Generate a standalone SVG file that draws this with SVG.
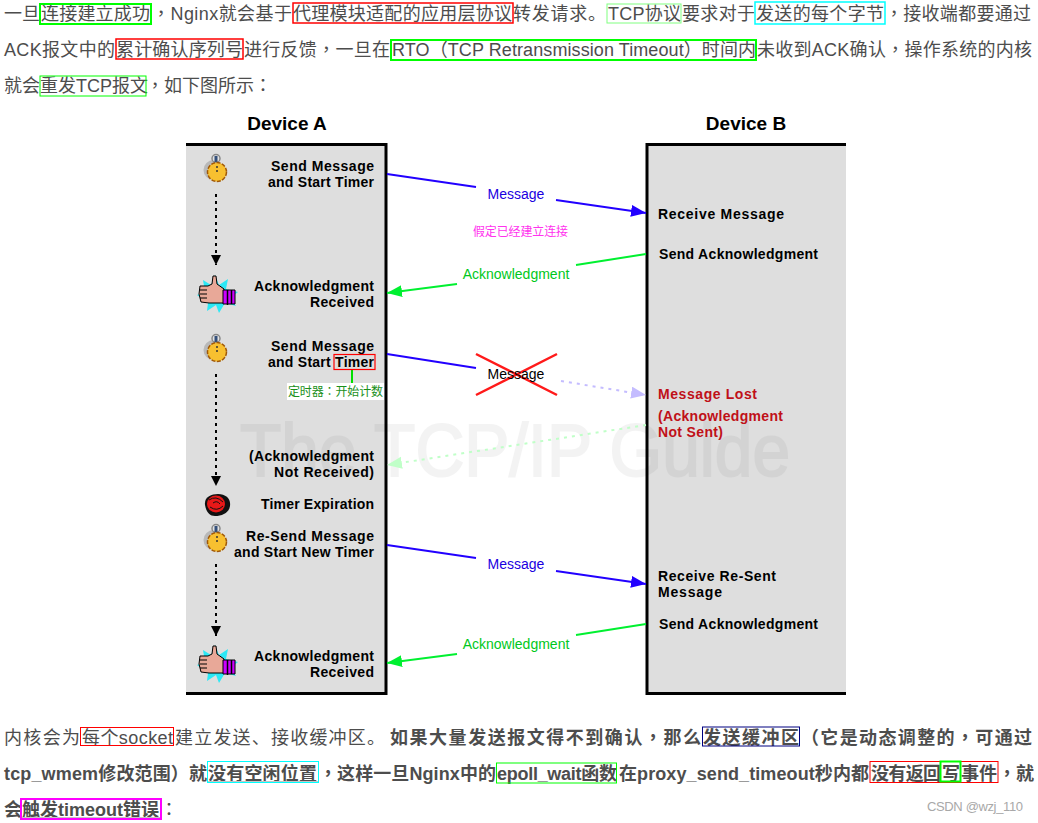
<svg xmlns="http://www.w3.org/2000/svg" xmlns:xlink="http://www.w3.org/1999/xlink" width="1038" height="823" viewBox="0 0 1038 823">
<style>
text{font-family:"Liberation Sans","Noto Sans CJK SC",sans-serif}
.tc{font-family:"Noto Sans CJK TC",sans-serif}
.p{font-size:18px;fill:#4d4d4d}
.b{font-size:18px;fill:#4d4d4d;font-weight:bold}
.box{fill:none}
.l{font-size:14px;font-weight:bold;fill:#000}
.e{text-anchor:end}
.r{fill:#c01018}
.h{font-size:19px;font-weight:bold;fill:#000;text-anchor:middle}
.m{font-size:14px;text-anchor:middle}
.panel{fill:#dedede}
.edge{stroke:#000;stroke-width:3;fill:none}
.blue{stroke:#2200ff;stroke-width:2;fill:none}
.green{stroke:#00f030;stroke-width:2;fill:none}
.vd{stroke:#000;stroke-width:2;stroke-dasharray:3 4;fill:none}
</style>
<defs>
<marker id="ab" markerUnits="userSpaceOnUse" markerWidth="16" markerHeight="14" refX="15" refY="6" orient="auto"><path d="M0 0L15 6L0 12Z" fill="#2200ff"/></marker>
<marker id="ag" markerUnits="userSpaceOnUse" markerWidth="16" markerHeight="14" refX="15" refY="6" orient="auto"><path d="M0 0L15 6L0 12Z" fill="#00f030"/></marker>
<marker id="al" markerUnits="userSpaceOnUse" markerWidth="16" markerHeight="14" refX="15" refY="6" orient="auto"><path d="M0 0L15 6L0 12Z" fill="#c4bcff"/></marker>
<marker id="af" markerUnits="userSpaceOnUse" markerWidth="16" markerHeight="14" refX="15" refY="6" orient="auto"><path d="M0 0L15 6L0 12Z" fill="#c0ffc8"/></marker>
<marker id="ak" markerUnits="userSpaceOnUse" markerWidth="11" markerHeight="12" refX="10" refY="5" orient="auto"><path d="M0 0L10 5L0 10Z" fill="#000"/></marker>
<symbol id="watch" width="30" height="34" viewBox="0 0 30 34" overflow="visible">
<circle cx="12.500" cy="17" r="10" fill="#b8b8b8"/>
<circle cx="15" cy="5.500" r="4" fill="#e2e2e2" stroke="#888" stroke-width="1.500"/>
<rect x="13.500" y="3" width="3" height="6" fill="#35507a"/>
<circle cx="16" cy="19" r="9.500" fill="#f8c030" stroke="#a05808" stroke-width="1.500" stroke-dasharray="4 1.500"/>
<path d="M16 13v6" stroke="#333" stroke-width="1.500" stroke-dasharray="2 2"/>
</symbol>
<symbol id="hand" width="41" height="38" viewBox="0 0 41 38" overflow="visible">
<path d="M0 20L8 17L6 5L14 10L18 0L22 10L31 4L29 14L41 17L33 23L39 31L28 28L22 38L19 30L10 36L11 28Z" fill="#2ce8f5"/>
<path d="M3 11H11L15 9L16 1H19L20 9L27 14V28H12L4 27L2 19Z" fill="#e8a898" stroke="#000" stroke-width="1"/>
<path d="M3 15H10M3 19H10M3 23H10" stroke="#000" stroke-width="1" fill="none"/>
<path d="M26 15H38V29H26Z" fill="#cc00ff" stroke="#000" stroke-width="1"/>
<path d="M30.500 15V30M34.500 15V29" stroke="#000" stroke-width="1.500"/>
</symbol>
</defs>
<rect width="1038" height="823" fill="#fff"/>

<g id="paragraph-top">
<text class="p" x="4" y="20" textLength="36">一旦</text>
<text class="p" x="41" y="20" textLength="109">连接建立成功</text>
<text class="p" x="152" y="20" textLength="140"><tspan class="tc">，</tspan>Nginx就会基于</text>
<text class="p" x="293" y="20" textLength="219">代理模块适配的应用层协议</text>
<text class="p" x="513" y="20" textLength="93">转发请求。</text>
<text class="p" x="608" y="20" textLength="73">TCP协议</text>
<text class="p" x="682" y="20" textLength="73">要求对于</text>
<text class="p" x="756" y="20" textLength="128">发送的每个字节</text>
<text class="p" x="885" y="20" textLength="146"><tspan class="tc">，</tspan>接收端都要通过</text>
<text class="p" x="4" y="56" textLength="111">ACK报文中的</text>
<text class="p" x="116" y="56" textLength="127">累计确认序列号</text>
<text class="p" x="244" y="56" textLength="146">进行反馈<tspan class="tc">，</tspan>一旦在</text>
<text class="p" x="392" y="56" textLength="364">RTO（TCP Retransmission Timeout）时间内</text>
<text class="p" x="757" y="56" textLength="275">未收到ACK确认<tspan class="tc">，</tspan>操作系统的内核</text>
<text class="p" x="4" y="92">就会</text>
<text class="p" x="40" y="92">重发TCP报文</text>
<text class="p" x="146" y="92"><tspan class="tc">，</tspan>如下图所示<tspan class="tc">：</tspan></text>
<rect class="box" x="40" y="4" width="111" height="20" stroke="#00ff00" stroke-width="2"/>
<rect class="box" x="293" y="3" width="220" height="20" stroke="#ff0000" stroke-width="1.500"/>
<rect class="box" x="607" y="4" width="74" height="19" stroke="#80ff80" stroke-width="1"/>
<rect class="box" x="755" y="2" width="130" height="22" stroke="#00ffff" stroke-width="1.500"/>
<rect class="box" x="116" y="39" width="127" height="20" stroke="#ff0000" stroke-width="1.500"/>
<rect class="box" x="391" y="40" width="365" height="20" stroke="#00ff00" stroke-width="2"/>
<rect class="box" x="40" y="76" width="106" height="20" stroke="#00ff00" stroke-width="1"/>
</g>

<g id="device-a">
<rect class="panel" x="186" y="144" width="200" height="550"/>
<path class="edge" d="M186 144.500H386V693.500H186"/>
<text class="h" x="287" y="130">Device A</text>
</g>
<g id="device-b">
<rect class="panel" x="646" y="144" width="200" height="550"/>
<path class="edge" d="M846 144.500H647V693.500H846"/>
<text class="h" x="746" y="130">Device B</text>
</g>
<text id="watermark" x="240" y="476" font-size="74" fill="#000" stroke="#000" stroke-width="2" opacity=".045" textLength="550" lengthAdjust="spacingAndGlyphs">The TCP/IP Guide</text>

<g id="connectors">
<path class="blue" d="M387 174L476 187"/>
<path class="blue" d="M556 200L646 213" marker-end="url(#ab)"/>
<path class="green" d="M646 254L576 265"/>
<path class="green" d="M457 284L387 293" marker-end="url(#ag)"/>
<path class="blue" d="M387 354L476 368"/>
<path d="M476 354L557 395M476 395L557 354" stroke="#ff1a1a" stroke-width="2.500" fill="none"/>
<path d="M561 381L646 395" stroke="#c4bcff" stroke-width="2" stroke-dasharray="3 5" fill="none" marker-end="url(#al)"/>
<path d="M646 425L387 465" stroke="#c0ffc8" stroke-width="2" stroke-dasharray="3 5" fill="none" marker-end="url(#af)"/>
<path class="blue" d="M387 545L476 558"/>
<path class="blue" d="M556 571L646 584" marker-end="url(#ab)"/>
<path class="green" d="M646 624L576 635"/>
<path class="green" d="M457 654L387 663" marker-end="url(#ag)"/>
<path class="vd" d="M216 194V265" marker-end="url(#ak)"/>
<path class="vd" d="M216 374V486" marker-end="url(#ak)"/>
<path class="vd" d="M216 564V636" marker-end="url(#ak)"/>
<path d="M352 370V385" stroke="#00e000" stroke-width="2"/>
</g>

<g id="a-send-1"><use xlink:href="#watch" x="201" y="153"/><text class="l e" x="374" y="171" textLength="103">Send Message</text><text class="l e" x="374" y="187" textLength="106">and Start Timer</text></g>
<g id="a-ack-1"><use xlink:href="#hand" x="197" y="275"/><text class="l e" x="374" y="291" textLength="120">Acknowledgment</text><text class="l e" x="374" y="307" textLength="64">Received</text></g>
<g id="a-send-2"><use xlink:href="#watch" x="201" y="333"/><text class="l e" x="374" y="351" textLength="103">Send Message</text><text class="l e" x="374" y="367" textLength="106">and Start Timer</text><rect class="box" x="334" y="354.500" width="41" height="15" stroke="#ff0000" stroke-width="1.200"/></g>
<g id="timer-note"><rect x="287" y="383" width="97" height="17" fill="#fff"/><text x="288" y="396" font-size="12" fill="#1a8f1a" textLength="95">定时器<tspan class="tc">：</tspan>开始计数</text></g>
<g id="a-noack"><text class="l e" x="374" y="461" textLength="125">(Acknowledgment</text><text class="l e" x="374" y="477" textLength="100">Not Received)</text></g>
<g id="a-expire"><path d="M205 505C204 497 211 494 218 494C226 494 231 499 230 506C229 513 222 516 215 516C209 516 206 511 205 505Z" fill="#111"/><ellipse cx="216" cy="504" rx="9" ry="8.500" fill="#e81818"/><path d="M209 500Q216 495 223 502M210 507Q217 512 223 506M213 503Q217 500 220 504" stroke="#111" fill="none"/><text class="l e" x="374" y="509" textLength="113">Timer Expiration</text></g>
<g id="a-resend"><use xlink:href="#watch" x="201" y="523"/><text class="l e" x="374" y="541" textLength="128">Re-Send Message</text><text class="l e" x="374" y="557" textLength="140">and Start New Timer</text></g>
<g id="a-ack-2"><use xlink:href="#hand" x="197" y="645"/><text class="l e" x="374" y="661" textLength="120">Acknowledgment</text><text class="l e" x="374" y="677" textLength="64">Received</text></g>

<g id="b-recv-1"><text class="l" x="658" y="219" textLength="126">Receive Message</text></g>
<g id="b-ack-1"><text class="l" x="659" y="259" textLength="159">Send Acknowledgment</text></g>
<g id="b-lost"><text class="l r" x="658" y="399" textLength="99">Message Lost</text><text class="l r" x="658" y="421" textLength="125">(Acknowledgment</text><text class="l r" x="658" y="437" textLength="65">Not Sent)</text></g>
<g id="b-recv-2"><text class="l" x="658" y="581" textLength="118">Receive Re-Sent</text><text class="l" x="658" y="597" textLength="64">Message</text></g>
<g id="b-ack-2"><text class="l" x="659" y="629" textLength="159">Send Acknowledgment</text></g>

<g id="connector-labels">
<text class="m" x="516" y="199" fill="#1a00e0">Message</text>
<text x="473" y="236" font-size="12" fill="#ff33ee" textLength="95">假定已经建立连接</text>
<text class="m" x="516" y="279" fill="#00c820">Acknowledgment</text>
<text class="m" x="516" y="379" fill="#000">Message</text>
<text class="m" x="516" y="569" fill="#1a00e0">Message</text>
<text class="m" x="516" y="649" fill="#00c820">Acknowledgment</text>
</g>

<g id="paragraph-bottom">
<text class="p" x="4" y="744" textLength="76">内核会为</text>
<text class="p" x="82" y="744" textLength="91">每个socket</text>
<text class="p" x="175" y="744" textLength="210">建立发送、接收缓冲区。</text>
<text class="b" x="390" y="744" textLength="311">如果大量发送报文得不到确认<tspan class="tc">，</tspan>那么</text>
<text class="b" x="703" y="744" textLength="96">发送缓冲区</text>
<text class="b" x="801" y="744" textLength="231">（它是动态调整的<tspan class="tc">，</tspan>可通过</text>
<text class="b" x="4" y="780" textLength="203">tcp_wmem修改范围）就</text>
<text class="b" x="208" y="780" textLength="109">没有空闲位置</text>
<text class="b" x="319" y="780" textLength="177"><tspan class="tc">，</tspan>这样一旦Nginx中的</text>
<text class="b" x="497" y="780" textLength="120">epoll_wait函数</text>
<text class="b" x="619" y="780" textLength="250">在proxy_send_timeout秒内都</text>
<text class="b" x="871" y="780" textLength="70">没有返回</text>
<text class="b" x="942" y="780">写</text>
<text class="b" x="961" y="780">事件</text>
<text class="b" x="998" y="780"><tspan class="tc">，</tspan>就</text>
<text class="b" x="4" y="816">会</text>
<text class="b" x="22" y="816">触发timeout错误</text>
<text class="p tc" x="160" y="816">：</text>
<path d="M208 781.500H318M22 817.500H160" stroke="#c4c4c4" stroke-width="1" fill="none"/>
<rect class="box" x="80.500" y="727.500" width="93" height="18" stroke="#ff0000" stroke-width="1"/>
<rect class="box" x="702.500" y="727" width="97" height="19" stroke="#000080" stroke-width="1"/>
<rect class="box" x="207.500" y="761.500" width="111" height="21" stroke="#00ffff" stroke-width="1"/>
<rect class="box" x="496.500" y="763" width="120" height="20" stroke="#00ff00" stroke-width="1"/>
<rect class="box" x="870" y="761.500" width="128" height="21" stroke="#ff0000" stroke-width="1"/>
<rect class="box" x="940.500" y="761.500" width="20" height="20" stroke="#00ff00" stroke-width="2"/>
<rect class="box" x="21" y="799" width="140" height="20" stroke="#ff00ff" stroke-width="2"/>
</g>
<text id="csdn" x="927" y="811" font-size="13" fill="#a8a8a8" textLength="96">CSDN @wzj_110</text>
</svg>
